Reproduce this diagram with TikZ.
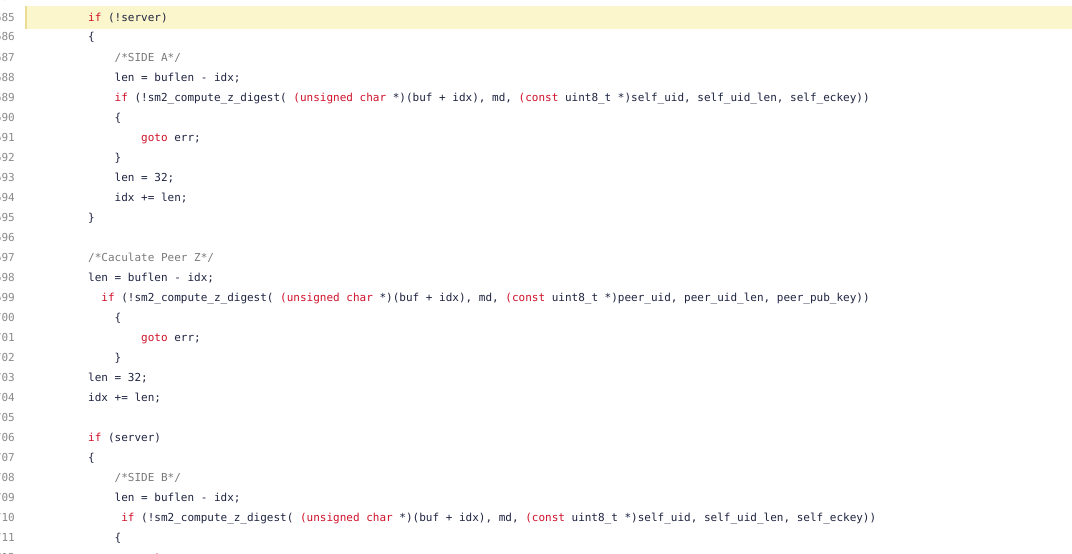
\documentclass[tikz,border=0pt]{standalone}
\usepackage{fontspec}
\setmonofont{DejaVu Sans Mono}
\definecolor{codetxt}{HTML}{1F2440}
\definecolor{kw}{HTML}{D0112B}
\definecolor{cmt}{HTML}{7A7A7A}
\definecolor{lnum}{HTML}{8A8A8A}
\definecolor{hl}{HTML}{FCF6CD}
\definecolor{hlb}{HTML}{EADB96}
\newcommand{\K}[1]{\textcolor{kw}{#1}}
\newcommand{\C}[1]{\textcolor{cmt}{#1}}
\tikzset{code/.style={anchor=base west,inner sep=0pt,text=codetxt,font=\ttfamily\fontsize{11}{13}\selectfont},
lnumst/.style={anchor=base east,inner sep=0pt,text=lnum,font=\ttfamily\fontsize{11}{13}\selectfont}}
\newcommand{\CL}[4]{%
 \node[lnumst] (n#1) at (15,{21+20*(#1-685)}) {#1};
 \node[code] (c#1) at ({88+6.62*#2},{21+20*(#1-685)}) {#3};}
\begin{document}
\begin{tikzpicture}[x=1pt,y=-1pt]
\useasboundingbox[fill=white] (0,0) rectangle (1072,554);
\fill[hl] (25,6) rectangle (1072,29);
\fill[hlb] (25,6) rectangle (26.5,29);
\node[lnumst] (n684) at (15,1) {684};
\CL{685}{0}{\K{if} (!server)}{}
\CL{686}{0}{\{}{}
\CL{687}{4}{\C{/*SIDE A*/}}{}
\CL{688}{4}{len = buflen - idx;}{}
\CL{689}{4}{\K{if} (!sm2\_compute\_z\_digest( \K{(unsigned char} *)(buf + idx), md, \K{(const} uint8\_t *)self\_uid, self\_uid\_len, self\_eckey))}{}
\CL{690}{4}{\{}{}
\CL{691}{8}{\K{goto} err;}{}
\CL{692}{4}{\}}{}
\CL{693}{4}{len = 32;}{}
\CL{694}{4}{idx += len;}{}
\CL{695}{0}{\}}{}
\node[lnumst] (n696) at (15,241) {696};
\CL{697}{0}{\C{/*Caculate Peer Z*/}}{}
\CL{698}{0}{len = buflen - idx;}{}
\CL{699}{2}{\K{if} (!sm2\_compute\_z\_digest( \K{(unsigned char} *)(buf + idx), md, \K{(const} uint8\_t *)peer\_uid, peer\_uid\_len, peer\_pub\_key))}{}
\CL{700}{4}{\{}{}
\CL{701}{8}{\K{goto} err;}{}
\CL{702}{4}{\}}{}
\CL{703}{0}{len = 32;}{}
\CL{704}{0}{idx += len;}{}
\node[lnumst] (n705) at (15,421) {705};
\CL{706}{0}{\K{if} (server)}{}
\CL{707}{0}{\{}{}
\CL{708}{4}{\C{/*SIDE B*/}}{}
\CL{709}{4}{len = buflen - idx;}{}
\CL{710}{5}{\K{if} (!sm2\_compute\_z\_digest( \K{(unsigned char} *)(buf + idx), md, \K{(const} uint8\_t *)self\_uid, self\_uid\_len, self\_eckey))}{}
\CL{711}{4}{\{}{}
\CL{712}{8}{\K{goto} err;}{}
\end{tikzpicture}
\end{document}
